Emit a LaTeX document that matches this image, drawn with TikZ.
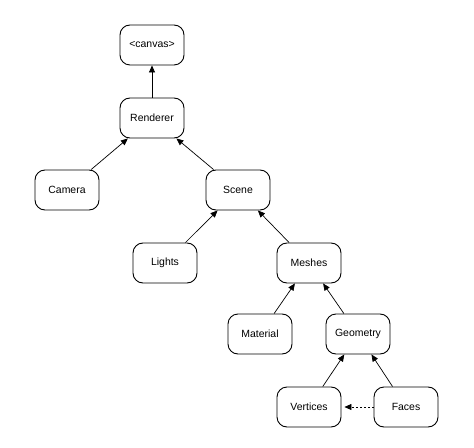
\documentclass[tikz,border=0pt]{standalone}
\usepackage{fontspec}
\setmainfont{Liberation Sans}
\usetikzlibrary{arrows.meta}
\begin{document}
\begin{tikzpicture}[x=1bp,y=-1bp,
  box/.style={draw, rounded corners=10bp, minimum width=64bp, minimum height=40bp, line width=0.9bp, font=\fontsize{10.5}{12}\selectfont, inner sep=0pt},
  edge/.style={-{Triangle[length=7bp,width=6bp]}, line width=0.7bp},
  dashedge/.style={-{Triangle[length=7bp,width=6bp]}, line width=0.6bp, dash pattern=on 2bp off 2bp, shorten >=3bp}]
\useasboundingbox (0,0) rectangle (474,448);
\node[box] (canvas) at (152,45) {<canvas>};
\node[box] (renderer) at (152,118) {Renderer};
\node[box] (camera) at (67,190) {Camera};
\node[box] (scene) at (238,190) {Scene};
\node[box] (lights) at (165,263) {Lights};
\node[box] (meshes) at (309,263) {Meshes};
\node[box] (material) at (260,334) {Material};
\node[box] (geometry) at (358,334) {Geometry};
\node[box] (vertices) at (309,407) {Vertices};
\node[box] (faces) at (406,407) {Faces};
\draw[edge] (renderer) -- (canvas);
\draw[edge] (camera) -- (renderer);
\draw[edge] (scene) -- (renderer);
\draw[edge] (lights) -- (scene);
\draw[edge] (meshes) -- (scene);
\draw[edge] (material) -- (meshes);
\draw[edge] (geometry) -- (meshes);
\draw[edge] (vertices) -- (geometry);
\draw[edge] (faces) -- (geometry);
\draw[dashedge] (faces) -- (vertices);
\end{tikzpicture}
\end{document}
